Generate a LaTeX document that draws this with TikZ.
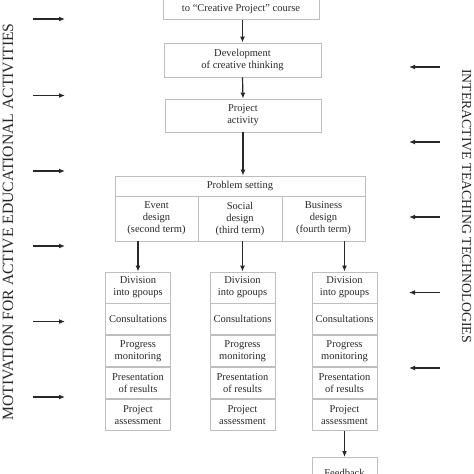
\documentclass[tikz,border=0pt]{standalone}
\usepackage{fontspec}
\setmainfont{Liberation Serif}
\usetikzlibrary{arrows.meta, positioning}
\definecolor{boxgray}{RGB}{190,190,190}
\definecolor{inkgray}{RGB}{40,40,40}
\tikzset{stagebox/.style={draw=boxgray, line width=0.9pt, text=inkgray, align=center, font=\fontsize{10.5}{12}\selectfont, inner sep=1pt},
cellbox/.style={stagebox, minimum width=65pt, minimum height=31pt},
flowarrow/.style={-{Latex[length=6pt, width=5pt]}, draw=inkgray, line width=1.2pt},
sidelabel/.style={text=inkgray, inner sep=0pt, anchor=base}}

\begin{document}
\begin{tikzpicture}
                \useasboundingbox (0pt, 0pt) rectangle (474pt, -474pt);
                \clip (0pt, 0pt) rectangle (474pt, -474pt);

                % Main stages
                \node[stagebox, minimum width=156pt, minimum height=34pt, anchor=south] (intro) at (241pt, -20pt) {\strut\\to “Creative Project” course};
                \node[stagebox, minimum width=157pt, minimum height=34pt] (creative) at (242.5pt, -60pt) {Development\\of creative thinking};
                \node[stagebox, minimum width=156pt, minimum height=33pt] (activity) at (243pt, -115.5pt) {Project\\activity};
                \node[stagebox, minimum width=250pt, minimum height=20pt] (problem) at (240pt, -186pt) {Problem setting};
                \node[stagebox, minimum width=83pt, minimum height=45pt] (event) at (156.5pt, -218.5pt) {Event\\design\\(second term)};
                \node[stagebox, minimum width=84pt, minimum height=45pt] (social) at (240pt, -218.5pt) {Social\\design\\(third term)};
                \node[stagebox, minimum width=83pt, minimum height=45pt] (business) at (323.5pt, -218.5pt) {Business\\design\\(fourth term)};

                % Columns of steps
                \foreach \c/\x in {1/138pt, 2/242.5pt, 3/344.5pt} {
\node[cellbox] (division\c) at (\x, -287.5pt) {Division\\into gpoups};
\node[cellbox, below=0pt of division\c] (consult\c) {Consultations};
\node[cellbox, below=0pt of consult\c] (progress\c) {Progress\\monitoring};
\node[cellbox, below=0pt of progress\c] (present\c) {Presentation\\of results};
\node[cellbox, below=0pt of present\c] (assess\c) {Project\\assessment};
}
                \node[cellbox, anchor=north] (feedback) at (344.5pt, -457pt) {Feedback};

                % Arrows
                \draw[flowarrow] (intro.south -| creative.north) -- (creative.north);
                \draw[flowarrow] (creative.south) -- (activity.north);
                \draw[flowarrow] (activity.south) -- (activity.south |- problem.north);
                \draw[flowarrow] (event.south -| division1.north) -- (division1.north);
                \draw[flowarrow] (social.south -| division2.north) -- (division2.north);
                \draw[flowarrow] (business.south -| division3.north) -- (division3.north);
                \draw[flowarrow] (assess3.south) -- (feedback.north);

                % Side arrows
                \foreach \i/\y in {1/19pt, 2/95.5pt, 3/171pt, 4/246pt, 5/321.5pt, 6/397pt} {
\coordinate (motivationtail\i) at (33pt, -\y);
\coordinate (motivationhead\i) at (65pt, -\y);
\draw[flowarrow] (motivationtail\i) -- (motivationhead\i);
}
                \foreach \i/\y in {1/67pt, 2/142pt, 3/217pt, 4/292.5pt, 5/368pt} {
\coordinate (teachingtail\i) at (440pt, -\y);
\coordinate (teachinghead\i) at (409pt, -\y);
\draw[flowarrow] (teachingtail\i) -- (teachinghead\i);
}

                % Side labels
                \node[sidelabel, rotate=90, font=\fontsize{15.7}{18}\selectfont] (motivation) at (13pt, -222pt) {MOTIVATION FOR ACTIVE EDUCATIONAL ACTIVITIES};
                \node[sidelabel, rotate=-90, font=\fontsize{13.8}{16}\selectfont] (interactive) at (462pt, -206pt) {INTERACTIVE TEACHING TECHNOLOGIES};
\end{tikzpicture}
\end{document}
